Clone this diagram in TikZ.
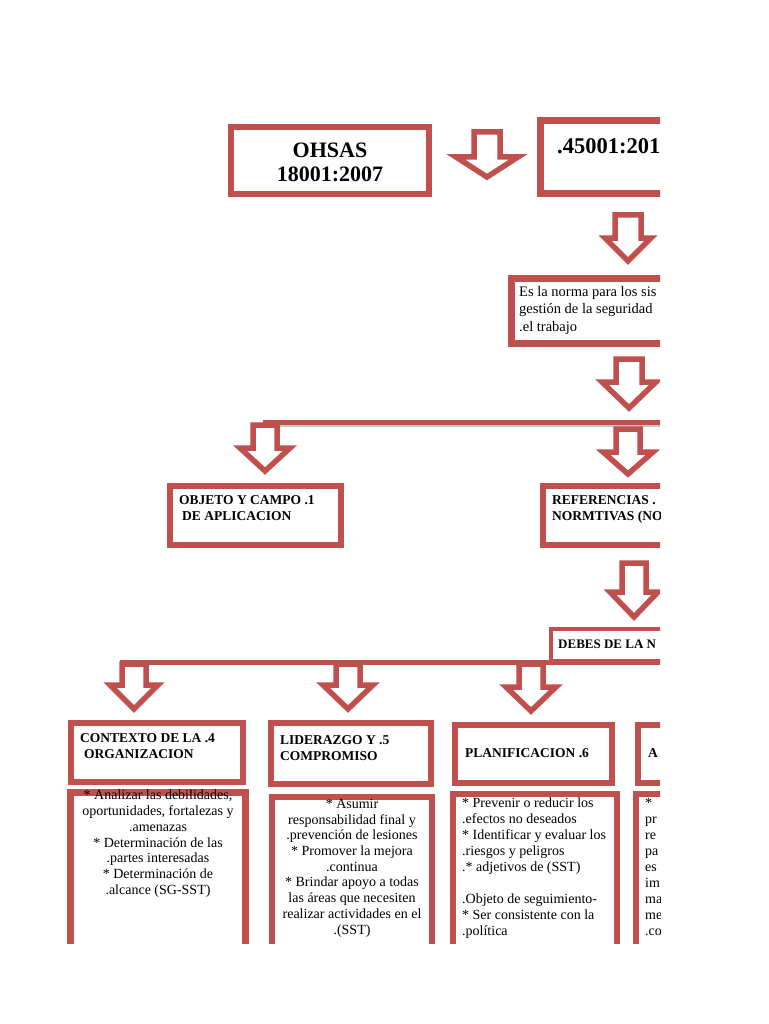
\documentclass[tikz,border=0pt]{standalone}
\usepackage{fontspec}
\setmainfont{Liberation Serif}
\definecolor{ored}{RGB}{192,80,77}
\tikzset{
  rline/.style={draw=ored, line width=5pt},
  farrow/.style={draw=ored, line width=5.5pt, fill=white, line join=miter},
  headtxt/.style={font=\bfseries\fontsize{13.5}{16.5}\selectfont, inner sep=0pt, align=left, anchor=north west},
  bodytxt/.style={font=\fontsize{14}{15.7}\selectfont, inner sep=0pt, anchor=north},
}
% optional line width, name, x1, y1, x2, y2 (outer extents)
\newcommand{\rbox}[6][6]{%
  \pgfmathsetmacro\rbW{#5-#3-#1}\pgfmathsetmacro\rbH{#6-#4-#1}%
  \node[draw=ored, line width=#1pt, fill=white, minimum width=\rbW pt,
        minimum height=\rbH pt, inner sep=0pt, anchor=center]
        (#2) at ({(#3+#5)/2},{(#4+#6)/2}) {};}
% cx, ytop, yheadtop, ytip, shaft half width, head half width
\newcommand{\farr}[6]{%
  \draw[farrow] (#1-#5,#2) -- (#1+#5,#2) -- (#1+#5,#3) -- (#1+#6,#3)
    -- (#1,#4) -- (#1-#6,#3) -- (#1-#5,#3) -- cycle;}
\begin{document}
\begin{tikzpicture}[x=1pt,y=-1pt]
\useasboundingbox (0,0) rectangle (768,1024);
\fill[white] (0,0) rectangle (768,1024);
\begin{scope}
\clip (0,0) rectangle (660,943);
% top row
\rbox{ohsas}{228}{124}{432}{197}
\node[font=\bfseries\fontsize{22}{24}\selectfont, align=center, inner sep=0pt] (ohsastxt) at (330,162) {OHSAS\\18001:2007};
\farr{487}{132}{157}{177}{13}{31}
\rbox[7]{iso}{537}{117}{720}{197}
\node[font=\bfseries\fontsize{22.5}{24}\selectfont, inner sep=0pt, anchor=west] (isotxt) at (557,146) {.45001:201};
\farr{628}{215}{238}{261}{13}{23}
\rbox[7]{norma}{508}{275}{720}{347}
\node[font=\fontsize{14.5}{17.5}\selectfont, inner sep=0pt, align=left, anchor=north west] (normatxt) at (519,286) {Es la norma para los sis\\gestión de la seguridad\\.el trabajo};
\farr{629}{359}{382}{408}{13}{27}
% first branch line
\draw[gray!45, line width=1.5pt] (263,426) -- (720,426);
\draw[rline] (263,422) -- (720,422);
\farr{265}{425}{448}{471}{12}{25}
\farr{628}{429}{452}{474}{12}{25}
\rbox{objeto}{167}{483}{344}{548}
\node[headtxt] (objetotxt) at (179,495) {OBJETO Y CAMPO .1\\\hspace{3pt}DE APLICACION};
\rbox{refs}{540}{483}{720}{548}
\node[headtxt] (refstxt) at (552,495) {REFERENCIAS .\\NORMTIVAS (NO};
\farr{634}{563}{592}{617}{12}{24}
\rbox[3.5]{debes}{549}{627}{720}{662}
\node[headtxt, font=\bfseries\fontsize{13}{16}\selectfont, anchor=west] (debestxt) at (558,644) {DEBES DE LA N};
% second branch line
\draw[rline] (120,662) -- (720,662);
\farr{134}{664}{685}{709}{12}{24}
\farr{348}{664}{685}{709}{12}{25}
\farr{531}{664}{687}{711}{12}{25}
% heading boxes
\rbox{contexto}{68}{720}{246}{785}
\node[headtxt] (contextotxt) at (80,733) {CONTEXTO DE LA .4\\\hspace{4pt}ORGANIZACION};
\rbox{liderazgo}{268}{720}{434}{787}
\node[headtxt] (liderazgotxt) at (280,735) {LIDERAZGO Y .5\\COMPROMISO};
\rbox{planif}{452}{722}{615}{786}
\node[headtxt, anchor=west] (planiftxt) at (465,753) {PLANIFICACION .6};
\rbox{apoyo}{635}{722}{720}{786}
\node[headtxt, anchor=west] (apoyotxt) at (648,753) {A};
% body boxes
\rbox[7]{ctxbody}{67}{789}{249}{1000}
\rbox{lidbody}{269}{794}{435}{1000}
\rbox{plabody}{450}{791}{620}{1000}
\rbox{apobody}{633}{791}{720}{1000}
\node[bodytxt, align=center] (ctxbodytxt) at (158,790) {* Analizar las debilidades,\\oportunidades, fortalezas y\\.amenazas\\* Determinación de las\\.partes interesadas\\* Determinación de\\.alcance (SG-SST)};
\node[bodytxt, align=center] (lidbodytxt) at (352,799) {* Asumir\\responsabilidad final y\\.prevención de lesiones\\* Promover la mejora\\.continua\\* Brindar apoyo a todas\\las áreas que necesiten\\realizar actividades en el\\.(SST)};
\node[bodytxt, align=left, anchor=north west, font=\fontsize{14}{16}\selectfont] (plabodytxt) at (462,798) {* Prevenir o reducir los\\.efectos no deseados\\* Identificar y evaluar los\\.riesgos y peligros\\.* adjetivos de (SST)\\[16pt].Objeto de seguimiento-\\* Ser consistente con la\\.política};
\node[bodytxt, align=left, anchor=north west, font=\fontsize{14}{16}\selectfont] (apobodytxt) at (645,798) {*\\pr\\re\\pa\\es\\im\\ma\\me\\.co};
\end{scope}
\end{tikzpicture}
\end{document}
